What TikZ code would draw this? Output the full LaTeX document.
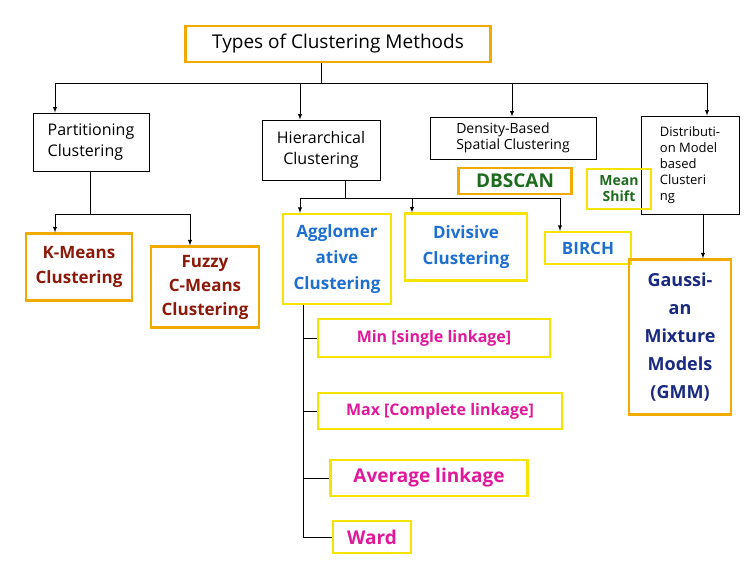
\documentclass[tikz,border=0pt]{standalone}
\usepackage{fontspec}
\setmainfont{Open Sans}
\begin{document}
\begin{tikzpicture}[x=1pt,y=-1pt,
 bx/.style={draw=#1,line width=2.2pt,align=center,inner sep=2pt},
 bk/.style={draw,line width=0.9pt,inner sep=2pt},
 arr/.style={-latex,line width=0.9pt},
 ln/.style={line width=0.9pt}]
\useasboundingbox (0,0) rectangle (744,562);
\definecolor{ora}{HTML}{F2A900}
\definecolor{yel}{HTML}{F5E400}
\definecolor{brn}{HTML}{8B1A0A}
\definecolor{grn}{HTML}{1E6B1E}
\definecolor{blu}{HTML}{1E6FD0}
\definecolor{dblu}{HTML}{1A2A80}
\definecolor{mag}{HTML}{E0199A}
\node[bx=ora,minimum width=305,minimum height=36,font=\fontsize{19}{22}\selectfont] (t) at (338,44) {Types of Clustering Methods};
\node[bk,minimum width=116,minimum height=58,align=left,font=\fontsize{16}{21}\selectfont] (p) at (91,142) {Partitioning\\Clustering};
\node[bk,minimum width=118,minimum height=60,align=center,font=\fontsize{16}{21}\selectfont] (h) at (321,150) {Hierarchical\\Clustering};
\node[bk,minimum width=166,minimum height=42,align=left,font=\fontsize{14}{16}\selectfont] (d) at (513,138) {Density-Based\\Spatial Clustering};
\node[bk,minimum width=98,minimum height=98,align=left,font=\fontsize{13}{16}\selectfont] (g) at (690,165) {Distributi-\\on Model\\based\\Clusteri\\ng};
\coordinate (j) at (321,83);
\draw[ln] (t.south -| j) -- (j);
\draw[ln] (55,83) -- (707,83);
\draw[arr] (55,83) -- (p.north -| 55,0);
\draw[arr] (300,83) -- (h.north -| 300,0);
\draw[arr] (512,83) -- (d.north -| 512,0);
\draw[arr] (707,83) -- (g.north -| 707,0);
% partitioning
\node[bx=ora,text=brn,minimum width=106,minimum height=67,font=\fontsize{17}{25}\selectfont\bfseries] (k) at (79,267) {K-Means\\Clustering};
\node[bx=ora,text=brn,minimum width=108,minimum height=81,font=\fontsize{17}{24}\selectfont\bfseries] (f) at (205,287) {Fuzzy\\C-Means\\Clustering};
\draw[ln] (p.south -| 90,0) -- (90,214);
\draw[ln] (55,214) -- (190,214);
\draw[arr] (55,214) -- (k.north -| 55,0);
\draw[arr] (190,214) -- (f.north -| 190,0);
% density
\node[bx=ora,text=grn,minimum width=113,minimum height=26,font=\fontsize{19}{22}\selectfont\bfseries] (db) at (515,181) {DBSCAN};
\node[bx=yel,text=grn,minimum width=64,minimum height=40,font=\fontsize{14}{16}\selectfont\bfseries] (ms) at (619,189) {Mean\\Shift};
% hierarchical
\draw[ln] (h.south -| 345,0) -- (345,198);
\draw[ln] (300,198) -- (560,198);
\node[bx=yel,text=blu,minimum width=108,minimum height=90,font=\fontsize{17}{26}\selectfont\bfseries] (ag) at (337,259) {Agglomer\\ative\\Clustering};
\node[bx=yel,text=blu,minimum width=122,minimum height=67,font=\fontsize{17}{26}\selectfont\bfseries] (dv) at (466,247) {Divisive\\Clustering};
\node[bx=yel,text=blu,minimum width=86,minimum height=32,font=\fontsize{17}{20}\selectfont\bfseries] (bi) at (588,248) {BIRCH};
\draw[arr] (300,198) -- (ag.north -| 300,0);
\draw[arr] (412,198) -- (dv.north -| 412,0);
\draw[arr] (560,198) -- (bi.north -| 560,0);
% agglomerative children
\node[bx=yel,text=mag,minimum width=232,minimum height=38,font=\fontsize{16}{20}\selectfont\bfseries] (m1) at (434,338) {Min [single linkage]};
\node[bx=yel,text=mag,minimum width=244,minimum height=36,font=\fontsize{16}{20}\selectfont\bfseries] (m2) at (440,411) {Max [Complete linkage]};
\node[bx=yel,text=mag,minimum width=197,minimum height=36,font=\fontsize{19}{22}\selectfont\bfseries] (m3) at (429,478) {Average linkage};
\node[bx=yel,text=mag,minimum width=78,minimum height=32,font=\fontsize{19}{22}\selectfont\bfseries] (m4) at (372,537) {Ward};
\draw[ln] (303,305) -- (303,537);
\foreach \n in {m1,m2,m3,m4} \draw[ln] (\n.west -| 303,0) -- (\n.west);
% gaussian
\node[bx=ora,text=dblu,minimum width=102,minimum height=155,font=\fontsize{18}{28}\selectfont\bfseries] (gm) at (680,337) {Gaussi-\\an\\Mixture\\Models\\(GMM)};
\draw[arr] (703,215) -- (gm.north -| 703,0);
\end{tikzpicture}
\end{document}
